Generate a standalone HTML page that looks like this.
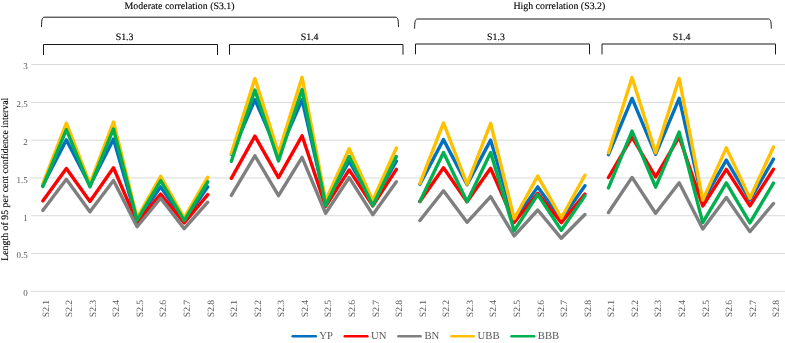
<!DOCTYPE html>
<html><head><meta charset="utf-8"><title>Chart</title>
<style>
html,body{margin:0;padding:0;background:#fff;}
svg{display:block;}
text{font-family:"Liberation Serif","Times New Roman",serif;font-variant-ligatures:none;font-kerning:none;text-rendering:geometricPrecision;}
.t{font-size:9.9px;fill:#000;stroke:#000;stroke-width:0.12px;}
.ax{font-size:9px;fill:#595959;}
.cat{font-size:9.6px;fill:#595959;}
.lg{font-size:10.7px;fill:#595959;}
.br{fill:none;stroke:#1a1a1a;stroke-width:1;}
.gl{stroke:#D9D9D9;stroke-width:1;}
.ln{fill:none;stroke-linecap:round;stroke-linejoin:round;}
</style></head><body>
<svg width="785" height="343" viewBox="0 0 785 343">
<rect width="785" height="343" fill="#fff"/>
<line class="gl" x1="31.0" x2="785" y1="291.35" y2="291.35"/>
<text class="ax" x="27.7" y="296.10" text-anchor="end">0</text>
<line class="gl" x1="31.0" x2="785" y1="253.55" y2="253.55"/>
<text class="ax" x="27.7" y="258.30" text-anchor="end">0.5</text>
<line class="gl" x1="31.0" x2="785" y1="215.75" y2="215.75"/>
<text class="ax" x="27.7" y="220.50" text-anchor="end">1</text>
<line class="gl" x1="31.0" x2="785" y1="177.95" y2="177.95"/>
<text class="ax" x="27.7" y="182.70" text-anchor="end">1.5</text>
<line class="gl" x1="31.0" x2="785" y1="140.15" y2="140.15"/>
<text class="ax" x="27.7" y="144.90" text-anchor="end">2</text>
<line class="gl" x1="31.0" x2="785" y1="102.35" y2="102.35"/>
<text class="ax" x="27.7" y="107.10" text-anchor="end">2.5</text>
<line class="gl" x1="31.0" x2="785" y1="64.55" y2="64.55"/>
<text class="ax" x="27.7" y="69.30" text-anchor="end">3</text>
<text class="t" style="font-size:9.87px" transform="translate(7.9,260.8) rotate(-90)">Length of 95 per cent confidence interval</text>
<text class="t" x="124.6" y="8.6">Moderate correlation (S3.1)</text>
<text class="t" x="513.4" y="8.6">High correlation (S3.2)</text>
<text class="t" x="115.7" y="39.6">S1.3</text>
<text class="t" x="300.7" y="39.6">S1.4</text>
<text class="t" x="487.1" y="39.6">S1.3</text>
<text class="t" x="672.7" y="39.6">S1.4</text>
<path class="br" d="M41.5,26.9 C41.6,20.7 41.9,17.4 44.1,17.2 L395.9,17.2 C398.1,17.4 398.4,20.7 398.5,26.9"/>
<path class="br" d="M414.6,28.6 C414.70000000000005,22.5 415.0,19.2 417.20000000000005,19.0 L768.6999999999999,19.0 C770.9,19.2 771.1999999999999,22.5 771.3,28.6"/>
<path class="br" d="M43.5,55 L43.5,44.5 L217.5,44.5 L217.5,55"/>
<path class="br" d="M229.5,54.7 L229.5,44.5 L403.0,44.5 L403.0,54.7"/>
<path class="br" d="M415.5,54.3 L415.5,44.0 L589.5,44.0 L589.5,54.3"/>
<path class="br" d="M602.0,54.4 L602.0,44.0 L775.5,44.0 L775.5,54.4"/>
<polyline class="ln" stroke="#0070C0" stroke-width="3.4" points="42.80,185.38 66.37,139.90 89.94,185.38 113.51,139.14 137.08,221.01 160.65,186.90 184.22,221.01 207.79,186.90"/>
<polyline class="ln" stroke="#0070C0" stroke-width="3.4" points="231.36,154.30 254.93,99.73 278.50,153.92 302.07,99.73 325.64,202.81 349.21,161.12 372.78,202.81 396.35,161.12"/>
<polyline class="ln" stroke="#0070C0" stroke-width="3.4" points="419.92,184.24 443.49,139.60 467.06,184.62 490.63,140.13 514.20,220.63 537.77,186.90 561.34,219.49 584.91,185.68"/>
<polyline class="ln" stroke="#0070C0" stroke-width="3.4" points="608.48,154.68 632.05,98.44 655.62,154.30 679.19,98.36 702.76,201.30 726.33,160.14 749.90,200.16 773.47,159.15"/>
<polyline class="ln" stroke="#FF0000" stroke-width="3.4" points="42.80,200.92 66.37,168.48 89.94,201.45 113.51,167.79 137.08,222.52 160.65,194.02 184.22,222.90 207.79,194.63"/>
<polyline class="ln" stroke="#FF0000" stroke-width="3.4" points="231.36,178.33 254.93,136.11 278.50,177.57 302.07,135.81 325.64,206.38 349.21,169.92 372.78,205.85 396.35,169.31"/>
<polyline class="ln" stroke="#FF0000" stroke-width="3.4" points="419.92,201.53 443.49,167.79 467.06,201.68 490.63,168.32 514.20,222.45 537.77,193.26 561.34,222.60 584.91,194.02"/>
<polyline class="ln" stroke="#FF0000" stroke-width="3.4" points="608.48,177.50 632.05,137.02 655.62,176.97 679.19,136.87 702.76,206.00 726.33,169.31 749.90,205.92 773.47,169.23"/>
<polyline class="ln" stroke="#7F7F7F" stroke-width="3.4" points="42.80,210.47 66.37,179.24 89.94,211.83 113.51,180.45 137.08,226.77 160.65,198.27 184.22,228.74 207.79,202.21"/>
<polyline class="ln" stroke="#7F7F7F" stroke-width="3.4" points="231.36,195.39 254.93,155.82 278.50,195.69 302.07,157.33 325.64,213.27 349.21,177.57 372.78,214.64 396.35,181.82"/>
<polyline class="ln" stroke="#7F7F7F" stroke-width="3.4" points="419.92,220.55 443.49,190.76 467.06,222.29 490.63,196.67 514.20,235.86 537.77,210.01 561.34,238.29 584.91,214.49"/>
<polyline class="ln" stroke="#7F7F7F" stroke-width="3.4" points="608.48,212.52 632.05,177.42 655.62,213.27 679.19,182.80 702.76,228.97 726.33,197.43 749.90,231.62 773.47,203.50"/>
<polyline class="ln" stroke="#FFC000" stroke-width="3.4" points="42.80,183.86 66.37,123.22 89.94,183.86 113.51,122.01 137.08,217.97 160.65,176.28 184.22,217.97 207.79,177.19"/>
<polyline class="ln" stroke="#FFC000" stroke-width="3.4" points="231.36,153.54 254.93,78.58 278.50,153.17 302.07,77.29 325.64,200.54 349.21,148.77 372.78,200.54 396.35,148.01"/>
<polyline class="ln" stroke="#FFC000" stroke-width="3.4" points="419.92,183.49 443.49,122.92 467.06,184.24 490.63,123.38 514.20,218.73 537.77,176.06 561.34,217.97 584.91,175.30"/>
<polyline class="ln" stroke="#FFC000" stroke-width="3.4" points="608.48,152.79 632.05,77.52 655.62,152.79 679.19,78.58 702.76,200.09 726.33,147.86 749.90,198.19 773.47,147.03"/>
<polyline class="ln" stroke="#00B050" stroke-width="3.4" points="42.80,186.59 66.37,129.67 89.94,186.82 113.51,128.98 137.08,220.25 160.65,180.60 184.22,220.55 207.79,181.82"/>
<polyline class="ln" stroke="#00B050" stroke-width="3.4" points="231.36,161.28 254.93,90.10 278.50,160.97 302.07,89.57 325.64,205.39 349.21,156.50 372.78,205.69 396.35,156.42"/>
<polyline class="ln" stroke="#00B050" stroke-width="3.4" points="419.92,201.45 443.49,152.41 467.06,201.75 490.63,152.41 514.20,230.71 537.77,194.63 561.34,230.25 584.91,195.84"/>
<polyline class="ln" stroke="#00B050" stroke-width="3.4" points="608.48,187.88 632.05,131.11 655.62,187.20 679.19,131.94 702.76,222.60 726.33,182.88 749.90,222.90 773.47,183.11"/>
<text class="cat" transform="translate(48.55,317.2) rotate(-90)">S2.1</text>
<text class="cat" transform="translate(72.12,317.2) rotate(-90)">S2.2</text>
<text class="cat" transform="translate(95.69,317.2) rotate(-90)">S2.3</text>
<text class="cat" transform="translate(119.26,317.2) rotate(-90)">S2.4</text>
<text class="cat" transform="translate(142.83,317.2) rotate(-90)">S2.5</text>
<text class="cat" transform="translate(166.40,317.2) rotate(-90)">S2.6</text>
<text class="cat" transform="translate(189.97,317.2) rotate(-90)">S2.7</text>
<text class="cat" transform="translate(213.54,317.2) rotate(-90)">S2.8</text>
<text class="cat" transform="translate(237.11,317.2) rotate(-90)">S2.1</text>
<text class="cat" transform="translate(260.68,317.2) rotate(-90)">S2.2</text>
<text class="cat" transform="translate(284.25,317.2) rotate(-90)">S2.3</text>
<text class="cat" transform="translate(307.82,317.2) rotate(-90)">S2.4</text>
<text class="cat" transform="translate(331.39,317.2) rotate(-90)">S2.5</text>
<text class="cat" transform="translate(354.96,317.2) rotate(-90)">S2.6</text>
<text class="cat" transform="translate(378.53,317.2) rotate(-90)">S2.7</text>
<text class="cat" transform="translate(402.10,317.2) rotate(-90)">S2.8</text>
<text class="cat" transform="translate(425.67,317.2) rotate(-90)">S2.1</text>
<text class="cat" transform="translate(449.24,317.2) rotate(-90)">S2.2</text>
<text class="cat" transform="translate(472.81,317.2) rotate(-90)">S2.3</text>
<text class="cat" transform="translate(496.38,317.2) rotate(-90)">S2.4</text>
<text class="cat" transform="translate(519.95,317.2) rotate(-90)">S2.5</text>
<text class="cat" transform="translate(543.52,317.2) rotate(-90)">S2.6</text>
<text class="cat" transform="translate(567.09,317.2) rotate(-90)">S2.7</text>
<text class="cat" transform="translate(590.66,317.2) rotate(-90)">S2.8</text>
<text class="cat" transform="translate(614.23,317.2) rotate(-90)">S2.1</text>
<text class="cat" transform="translate(637.80,317.2) rotate(-90)">S2.2</text>
<text class="cat" transform="translate(661.37,317.2) rotate(-90)">S2.3</text>
<text class="cat" transform="translate(684.94,317.2) rotate(-90)">S2.4</text>
<text class="cat" transform="translate(708.51,317.2) rotate(-90)">S2.5</text>
<text class="cat" transform="translate(732.08,317.2) rotate(-90)">S2.6</text>
<text class="cat" transform="translate(755.65,317.2) rotate(-90)">S2.7</text>
<text class="cat" transform="translate(779.22,317.2) rotate(-90)">S2.8</text>
<line x1="292.7" x2="315.8" y1="336.3" y2="336.3" stroke="#0070C0" stroke-width="2.5" stroke-linecap="round"/>
<text class="lg" x="319.2" y="339.2">YP</text>
<line x1="344.8" x2="367.40000000000003" y1="336.3" y2="336.3" stroke="#FF0000" stroke-width="2.5" stroke-linecap="round"/>
<text class="lg" x="371.0" y="339.2">UN</text>
<line x1="398.4" x2="420.6" y1="336.3" y2="336.3" stroke="#7F7F7F" stroke-width="2.5" stroke-linecap="round"/>
<text class="lg" x="424.4" y="339.2">BN</text>
<line x1="451.4" x2="473.8" y1="336.3" y2="336.3" stroke="#FFC000" stroke-width="2.5" stroke-linecap="round"/>
<text class="lg" x="477.6" y="339.2">UBB</text>
<line x1="511.5" x2="534.1999999999999" y1="336.3" y2="336.3" stroke="#00B050" stroke-width="2.5" stroke-linecap="round"/>
<text class="lg" x="537.8" y="339.2">BBB</text>
</svg></body></html>
